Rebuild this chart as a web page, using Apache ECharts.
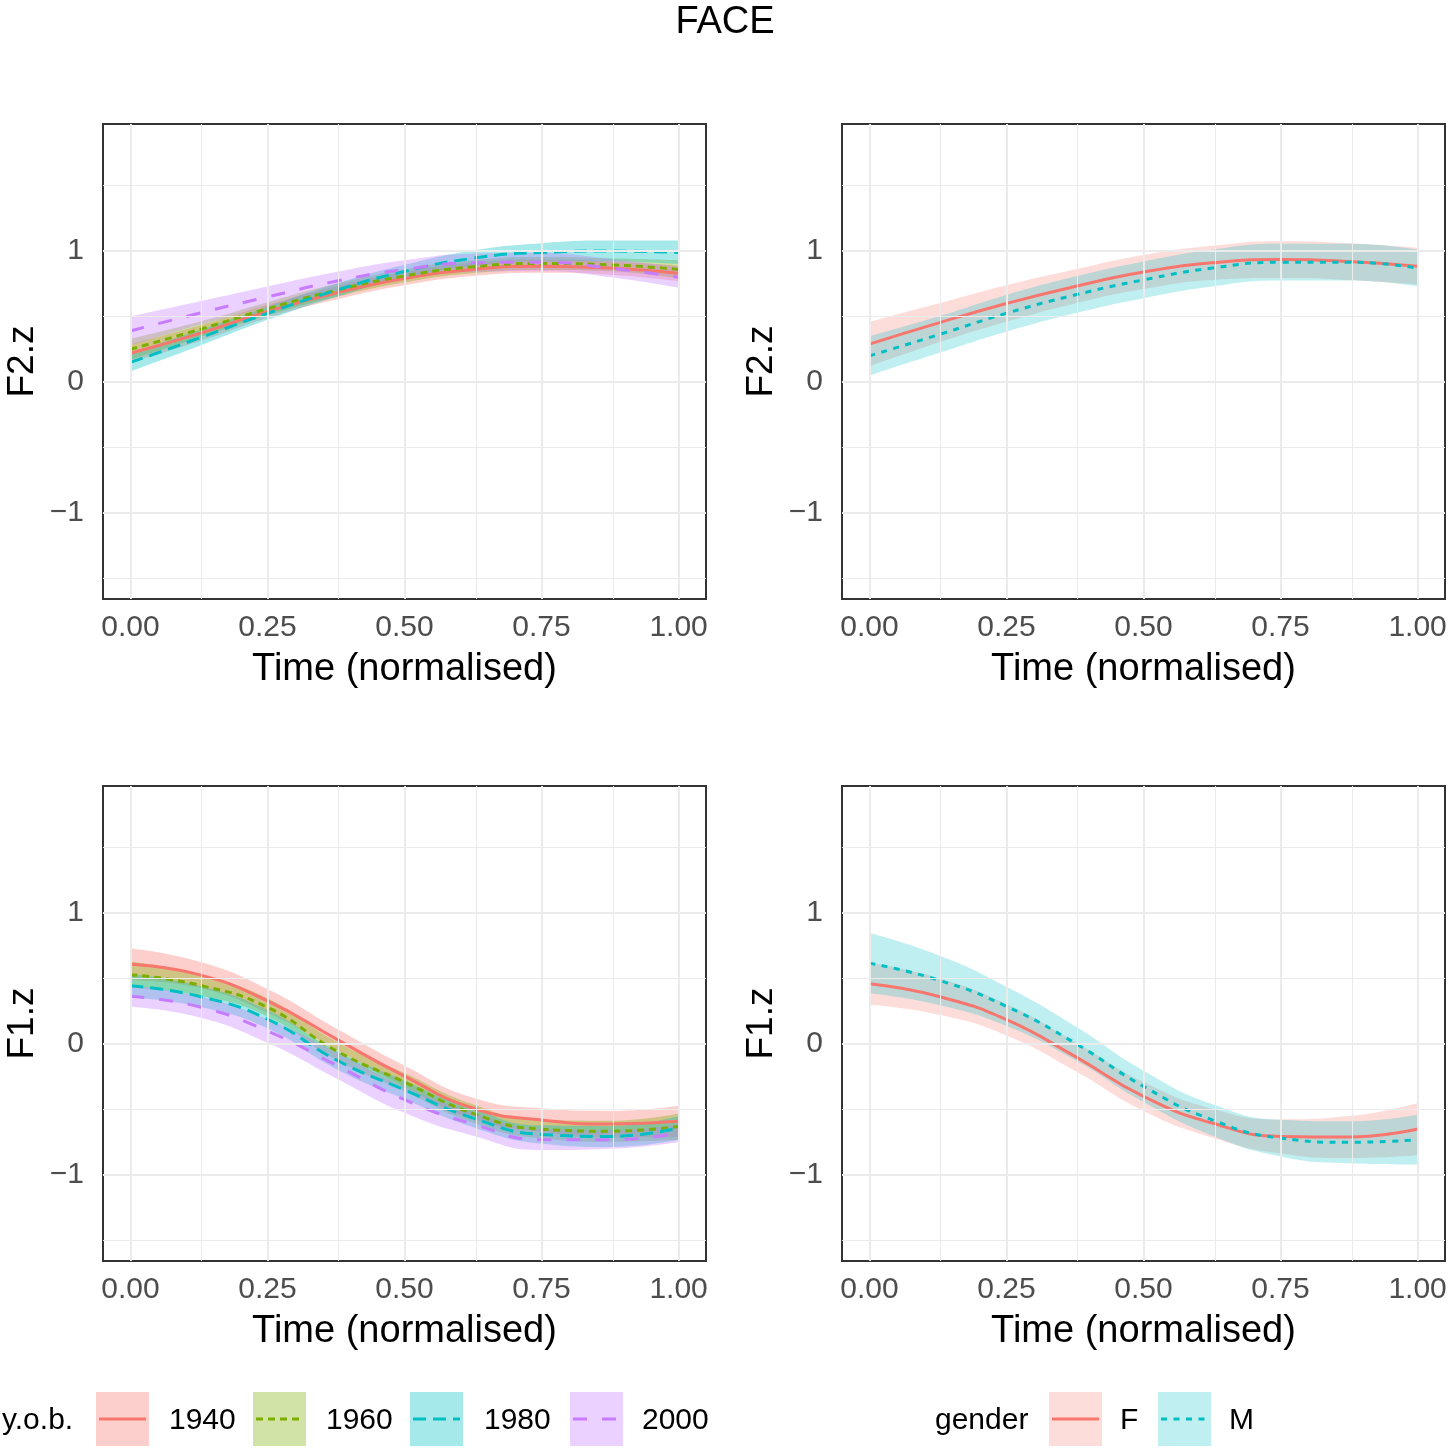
<!DOCTYPE html>
<html><head><meta charset="utf-8">
<script src="https://cdn.jsdelivr.net/npm/echarts@6/dist/echarts.min.js"></script>
<style>html,body{margin:0;padding:0;background:#fff}#c{width:1450px;height:1448px}</style>
</head><body><div id="c"></div><script>
// ---------- data ----------
const xs = [0, 0.125, 0.25, 0.375, 0.5, 0.625, 0.75, 0.875, 1];
const xTicks = [0, 0.25, 0.5, 0.75, 1];
const xMinor = [0.125, 0.375, 0.625, 0.875];
const yTicks = [-1, 0, 1];
const yMinor = [-1.5, -0.5, 0.5, 1.5];
const yobGroups = ['1940', '1960', '1980', '2000'];
const genderGroups = ['F', 'M'];

// F2.z by y.o.b. (fit, half-width of ribbon)
const f2_1940 = [0.22, 0.37, 0.54, 0.68, 0.79, 0.86, 0.885, 0.87, 0.83];
const f2_1940_ci = [0.07, 0.06, 0.05, 0.05, 0.05, 0.05, 0.05, 0.05, 0.06];
const f2_1960 = [0.25, 0.40, 0.56, 0.70, 0.81, 0.88, 0.905, 0.895, 0.86];
const f2_1960_ci = [0.08, 0.06, 0.05, 0.05, 0.05, 0.05, 0.05, 0.05, 0.07];
const f2_1980 = [0.15, 0.335, 0.525, 0.70, 0.845, 0.945, 0.99, 1.0, 0.99];
const f2_1980_ci = [0.07, 0.06, 0.05, 0.05, 0.05, 0.06, 0.07, 0.08, 0.09];
const f2_2000 = [0.39, 0.525, 0.65, 0.77, 0.86, 0.91, 0.915, 0.87, 0.80];
const f2_2000_ci = [0.11, 0.09, 0.08, 0.07, 0.07, 0.07, 0.07, 0.07, 0.08];

// F2.z by gender
const f2_F = [0.29, 0.45, 0.60, 0.73, 0.84, 0.91, 0.935, 0.92, 0.885];
const f2_F_ci = [0.17, 0.15, 0.14, 0.13, 0.13, 0.13, 0.14, 0.14, 0.14];
const f2_M = [0.20, 0.36, 0.525, 0.665, 0.78, 0.87, 0.915, 0.915, 0.87];
const f2_M_ci = [0.15, 0.14, 0.14, 0.14, 0.14, 0.14, 0.14, 0.14, 0.14];

// F1.z by y.o.b.
const f1_1940 = [0.61, 0.53, 0.33, 0.04, -0.245, -0.49, -0.58, -0.61, -0.59];
const f1_1940_ci = [0.12, 0.10, 0.09, 0.08, 0.08, 0.08, 0.09, 0.10, 0.12];
const f1_1960 = [0.53, 0.45, 0.28, -0.05, -0.29, -0.53, -0.65, -0.665, -0.63];
const f1_1960_ci = [0.10, 0.08, 0.07, 0.07, 0.07, 0.07, 0.07, 0.08, 0.10];
const f1_1980 = [0.445, 0.365, 0.19, -0.12, -0.35, -0.565, -0.69, -0.705, -0.64];
const f1_1980_ci = [0.09, 0.08, 0.07, 0.07, 0.07, 0.07, 0.07, 0.08, 0.09];
const f1_2000 = [0.365, 0.285, 0.10, -0.16, -0.425, -0.61, -0.73, -0.73, -0.68];
const f1_2000_ci = [0.08, 0.08, 0.09, 0.10, 0.10, 0.09, 0.08, 0.07, 0.07];

// F1.z by gender
const f1_F = [0.46, 0.365, 0.186, -0.094, -0.40, -0.603, -0.705, -0.71, -0.649];
const f1_F_ci = [0.16, 0.14, 0.12, 0.11, 0.11, 0.11, 0.13, 0.16, 0.20];
const f1_M = [0.618, 0.49, 0.288, 0.008, -0.323, -0.578, -0.718, -0.75, -0.73];
const f1_M_ci = [0.23, 0.19, 0.15, 0.13, 0.12, 0.12, 0.14, 0.16, 0.19];

// ---------- styles ----------
const FONT = 'Liberation Sans, Arial, Helvetica, sans-serif';
const yobColors = {'1940': '#F8766D', '1960': '#7CAE00', '1980': '#00BFC4', '2000': '#C77CFF'};
const yobDash = {'1940': 'solid', '1960': [7, 5], '1980': [13, 7], '2000': [14, 15]};
const genderColors = {F: '#F8766D', M: '#00BFC4'};
const genderDash = {F: 'solid', M: [6, 6.5]};
const yobAlpha = 0.35, genderAlpha = 0.25;

function rgba(hex, a) {
  const n = parseInt(hex.slice(1), 16);
  return `rgba(${(n >> 16) & 255},${(n >> 8) & 255},${n & 255},${a})`;
}

const panels = [
  {left: 103, top: 124, yName: 'F2.z', groups: yobGroups, colors: yobColors, dash: yobDash, alpha: yobAlpha,
   fits: {'1940': f2_1940, '1960': f2_1960, '1980': f2_1980, '2000': f2_2000},
   cis: {'1940': f2_1940_ci, '1960': f2_1960_ci, '1980': f2_1980_ci, '2000': f2_2000_ci}},
  {left: 842, top: 124, yName: 'F2.z', groups: genderGroups, colors: genderColors, dash: genderDash, alpha: genderAlpha,
   fits: {F: f2_F, M: f2_M}, cis: {F: f2_F_ci, M: f2_M_ci}},
  {left: 103, top: 786, yName: 'F1.z', groups: yobGroups, colors: yobColors, dash: yobDash, alpha: yobAlpha,
   fits: {'1940': f1_1940, '1960': f1_1960, '1980': f1_1980, '2000': f1_2000},
   cis: {'1940': f1_1940_ci, '1960': f1_1960_ci, '1980': f1_1980_ci, '2000': f1_2000_ci}},
  {left: 842, top: 786, yName: 'F1.z', groups: genderGroups, colors: genderColors, dash: genderDash, alpha: genderAlpha,
   fits: {F: f1_F, M: f1_M}, cis: {F: f1_F_ci, M: f1_M_ci}}
];

const grids = [], xAxes = [], yAxes = [], series = [];
panels.forEach((p, i) => {
  grids.push({left: p.left, top: p.top, width: 603, height: 475, show: true,
    backgroundColor: '#fff', borderColor: '#333333', borderWidth: 2, containLabel: false});
  xAxes.push({gridIndex: i, type: 'value', min: -0.05, max: 1.05,
    axisLine: {show: false}, splitLine: {show: false},
    axisTick: {show: true, customValues: xTicks, length: 7, lineStyle: {color: '#333333', width: 2}},
    axisLabel: {customValues: xTicks, formatter: v => v.toFixed(2), fontSize: 30, color: '#4D4D4D', margin: 14, fontFamily: FONT},
    name: 'Time (normalised)', nameLocation: 'middle', nameGap: 52,
    nameTextStyle: {fontSize: 38, color: '#000', fontFamily: FONT}});
  yAxes.push({gridIndex: i, type: 'value', min: -1.656, max: 1.97,
    axisLine: {show: false}, splitLine: {show: false},
    axisTick: {show: true, customValues: yTicks, length: 7, lineStyle: {color: '#333333', width: 2}},
    axisLabel: {customValues: yTicks, formatter: v => (v < 0 ? '\u2212' + Math.abs(v) : String(v)),
      fontSize: 30, color: '#4D4D4D', margin: 19, fontFamily: FONT},
    name: p.yName, nameLocation: 'middle', nameGap: 62, nameRotate: 90,
    nameTextStyle: {fontSize: 37, color: '#000', fontFamily: FONT}});

  // gridlines
  const ml = [];
  xTicks.forEach(v => ml.push({xAxis: v, lineStyle: {width: 2}}));
  xMinor.forEach(v => ml.push({xAxis: v, lineStyle: {width: 1}}));
  yTicks.forEach(v => ml.push({yAxis: v, lineStyle: {width: 2}}));
  yMinor.forEach(v => ml.push({yAxis: v, lineStyle: {width: 1}}));
  series.push({type: 'line', xAxisIndex: i, yAxisIndex: i, data: [[0, 0]], showSymbol: false, symbol: 'none',
    lineStyle: {opacity: 0}, z: 1, silent: true,
    markLine: {silent: true, symbol: 'none', label: {show: false}, animation: false,
      lineStyle: {color: '#EBEBEB', type: 'solid'}, data: ml}});

  // ribbons: items are [y, x] so the y value is the first (stacked) dimension
  p.groups.forEach(g => {
    const fit = p.fits[g], ci = p.cis[g];
    const st = 'band' + i + '_' + g;
    series.push({type: 'line', xAxisIndex: i, yAxisIndex: i, stack: st, stackStrategy: 'all', smooth: true, symbol: 'none',
      encode: {x: 1, y: 0}, lineStyle: {opacity: 0}, z: 2, silent: true,
      data: xs.map((x, k) => [fit[k] - ci[k], x])});
    series.push({type: 'line', xAxisIndex: i, yAxisIndex: i, stack: st, stackStrategy: 'all', smooth: true, symbol: 'none',
      encode: {x: 1, y: 0}, lineStyle: {opacity: 0}, z: 2, silent: true,
      areaStyle: {color: rgba(p.colors[g], p.alpha), opacity: 1},
      data: xs.map((x, k) => [2 * ci[k], x])});
  });
  // lines
  p.groups.forEach(g => {
    const fit = p.fits[g];
    series.push({type: 'line', xAxisIndex: i, yAxisIndex: i, smooth: true, symbol: 'none', z: 3,
      lineStyle: {color: p.colors[g], width: 3, type: p.dash[g], cap: 'butt'},
      data: xs.map((x, k) => [x, fit[k]])});
  });
});

// ---------- legend (ggplot-style keys) ----------
const graphics = [];
function txt(x, y, s) {
  graphics.push({type: 'text', x: x, y: y, style: {text: s, fontSize: 30, fontFamily: FONT, fill: '#000',
    align: 'left', verticalAlign: 'middle'}});
}
function key(x, color, alpha, dash) {
  graphics.push({type: 'rect', shape: {x: x, y: 1392, width: 53, height: 54}, style: {fill: rgba(color, alpha)}});
  graphics.push({type: 'line', shape: {x1: x + 3, y1: 1419, x2: x + 50, y2: 1419},
    style: {stroke: color, lineWidth: 3, lineDash: dash === 'solid' ? null : dash}});
}
txt(2, 1421, 'y.o.b.');
const yobKeyX = [96, 253, 410, 570];
const yobLabX = [169, 326, 484, 642];
yobGroups.forEach((g, k) => { key(yobKeyX[k], yobColors[g], yobAlpha, yobDash[g]); txt(yobLabX[k], 1421, g); });
txt(935, 1421, 'gender');
const gKeyX = [1049, 1158];
const gLabX = [1120, 1229];
genderGroups.forEach((g, k) => { key(gKeyX[k], genderColors[g], genderAlpha, genderDash[g]); txt(gLabX[k], 1421, g); });

const chart = echarts.init(document.getElementById('c'));
chart.setOption({
  animation: false,
  backgroundColor: '#fff',
  textStyle: {fontFamily: FONT},
  title: {text: 'FACE', left: 'center', top: -1, textStyle: {fontSize: 38, fontWeight: 'normal', color: '#000', fontFamily: FONT}},
  grid: grids, xAxis: xAxes, yAxis: yAxes, series: series, graphic: graphics
});
</script></body></html>
